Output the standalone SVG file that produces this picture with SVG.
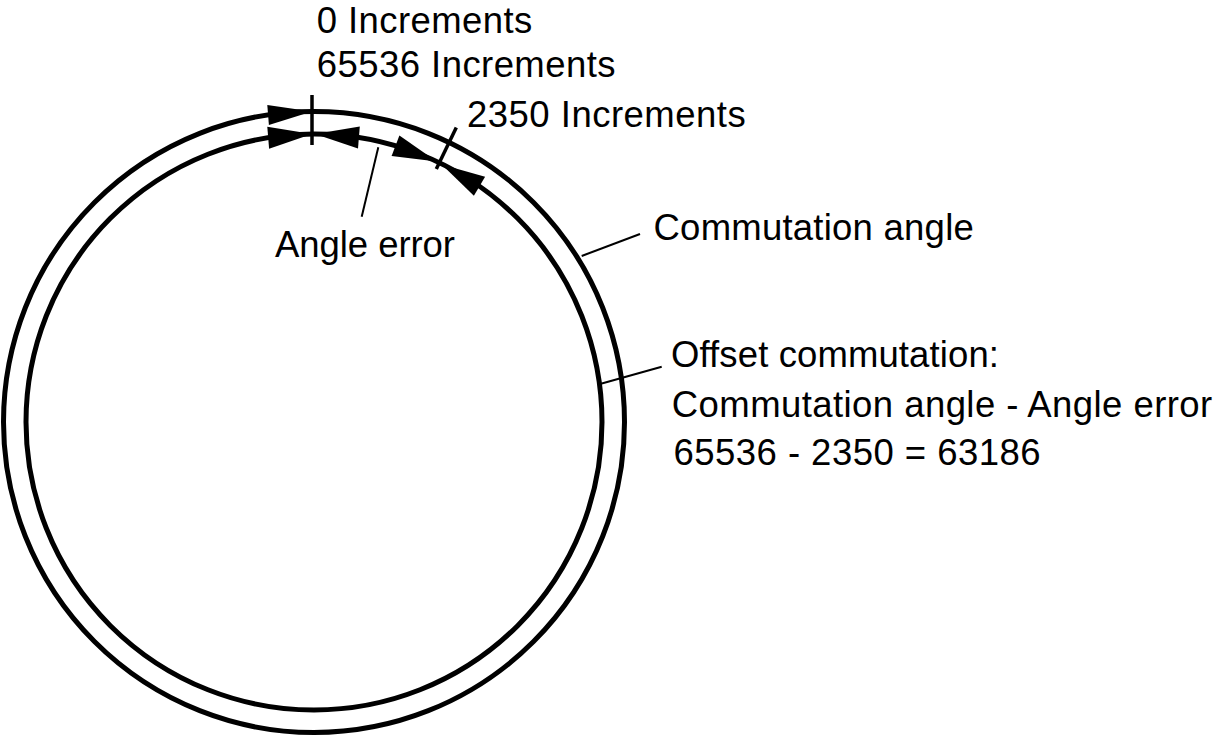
<svg xmlns="http://www.w3.org/2000/svg" width="1224" height="736" viewBox="0 0 1224 736">
  <style>
    .ring { fill: none; stroke: #000; stroke-width: 5; }
    .tick { stroke: #000; stroke-width: 3.5; }
    .leader { stroke: #000; stroke-width: 2; fill: none; }
    .head { fill: #000; stroke: none; }
    text { font-family: "Liberation Sans", Arial, sans-serif; font-size: 36.5px; fill: #000; }
  </style>
  <rect width="1224" height="736" fill="#fff"/>
  <g id="commutation-circle">
    <circle class="ring" cx="314" cy="422" r="310.5"/>
  </g>
  <g id="offset-circle">
    <circle class="ring" cx="314" cy="422" r="288"/>
  </g>
  <g id="connectors">
    <line class="tick" x1="312" y1="95" x2="312" y2="145"/>
    <line class="tick" x1="436.3" y1="169" x2="456.3" y2="127.6"/>
    <polygon class="head" points="312,111.5 268.9,124.9 267.3,104.9"/>
    <polygon class="head" points="312,134 269.1,148.7 267.3,126.7"/>
    <polygon class="head" points="315,134 359.8,126.5 358,148.5"/>
    <polygon class="head" points="436.7,161.5 391.6,156.1 399.4,135.5"/>
    <polygon class="head" points="441.7,164.5 485.1,176.8 473.9,195.8"/>
    <line class="leader" x1="378.3" y1="147.3" x2="361.7" y2="216.7"/>
    <line class="leader" x1="581.7" y1="256" x2="640" y2="234"/>
    <line class="leader" x1="600" y1="384" x2="661.7" y2="366.7"/>
  </g>
  <g id="label-zero">
    <text x="316.8" y="33.3" textLength="215.4" lengthAdjust="spacing">0 Increments</text>
    <text x="316.8" y="77.3" textLength="298.7" lengthAdjust="spacing">65536 Increments</text>
  </g>
  <g id="label-2350">
    <text x="467" y="126.7" textLength="278.7" lengthAdjust="spacing">2350 Increments</text>
  </g>
  <g id="label-angle-error">
    <text x="275" y="256.7" textLength="180" lengthAdjust="spacing">Angle error</text>
  </g>
  <g id="label-commutation-angle">
    <text x="653.5" y="240" textLength="320.3" lengthAdjust="spacing">Commutation angle</text>
  </g>
  <g id="label-offset">
    <text x="671" y="366.7" textLength="328" lengthAdjust="spacing">Offset commutation:</text>
    <text x="671.8" y="416.7" textLength="540.4" lengthAdjust="spacing">Commutation angle - Angle error</text>
    <text x="673.5" y="465" textLength="367" lengthAdjust="spacing">65536 - 2350 = 63186</text>
  </g>
</svg>
